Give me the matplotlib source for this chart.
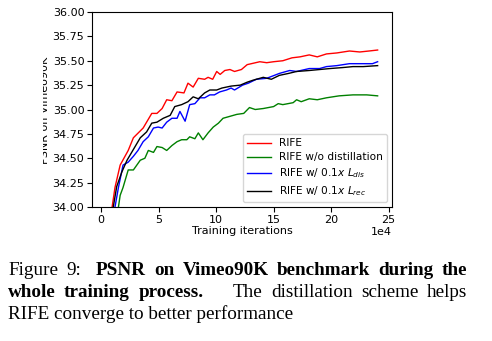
import numpy as np
import matplotlib
matplotlib.use('Agg')
import matplotlib.pyplot as plt
from matplotlib.transforms import Bbox, TransformedBbox

# training iterations (x1e4) and PSNR readings for each run
x_rife = [0.8, 0.95, 1.2, 1.65, 2.35, 2.8, 3.65, 4.4, 4.85, 5.3, 5.7, 6.15, 6.6, 7.2, 7.55, 8.0,
          8.45, 9.0, 9.3, 9.7, 10.05, 10.35, 10.75, 11.2, 11.6, 12.2, 12.7, 13.8, 14.4, 15.0,
          15.8, 16.6, 17.3, 18.1, 18.8, 19.6, 20.5, 21.6, 22.5, 23.3, 24.05]
y_rife = [33.8, 34.0, 34.2, 34.43, 34.58, 34.71, 34.81, 34.96, 34.96, 35.01, 35.1, 35.09, 35.18, 35.17,
          35.27, 35.23, 35.32, 35.31, 35.33, 35.31, 35.39, 35.36, 35.40, 35.41, 35.39, 35.41, 35.46,
          35.49, 35.48, 35.49, 35.5, 35.53, 35.54, 35.56, 35.54, 35.57, 35.58, 35.6, 35.59, 35.6, 35.61]

x_nodist = [1.4, 1.5, 1.65, 1.9, 2.35, 2.8, 3.1, 3.4, 3.8, 4.1, 4.55, 4.85, 5.3, 5.7, 6.15, 6.6, 7.0,
            7.45, 7.7, 8.15, 8.45, 8.85, 9.3, 9.75, 10.2, 10.6, 11.2, 11.8, 12.4, 12.9, 13.4, 14.1,
            15.0, 15.4, 15.8, 16.7, 17.0, 17.4, 18.1, 18.8, 19.6, 20.7, 21.9, 23.1, 24.05]
y_nodist = [33.85, 34.0, 34.12, 34.2, 34.38, 34.38, 34.43, 34.48, 34.5, 34.58, 34.56, 34.62, 34.61,
            34.58, 34.63, 34.67, 34.69, 34.69, 34.72, 34.7, 34.76, 34.69, 34.76, 34.82, 34.86, 34.91,
            34.93, 34.95, 34.96, 35.02, 35.0, 35.01, 35.03, 35.06, 35.05, 35.07, 35.1, 35.08, 35.11,
            35.1, 35.12, 35.14, 35.15, 35.15, 35.14]

x_dis = [1.05, 1.2, 1.5, 1.9, 2.35, 2.8, 3.2, 3.65, 4.1, 4.55, 4.95, 5.3, 5.7, 6.15, 6.6, 6.85, 7.3,
         7.7, 8.15, 8.6, 9.0, 9.45, 9.85, 10.3, 10.9, 11.3, 11.6, 12.3, 12.8, 13.5, 14.4, 15.5,
         16.4, 17.0, 18.1, 19.0, 19.6, 20.5, 21.6, 22.8, 23.6, 24.05]
y_dis = [33.85, 34.0, 34.2, 34.43, 34.46, 34.52, 34.58, 34.67, 34.72, 34.81, 34.82, 34.81, 34.87,
         34.91, 34.91, 34.98, 34.88, 35.05, 35.06, 35.12, 35.12, 35.15, 35.15, 35.18, 35.2, 35.22,
         35.2, 35.25, 35.27, 35.31, 35.32, 35.37, 35.4, 35.39, 35.42, 35.42, 35.44, 35.45, 35.47,
         35.47, 35.47, 35.49]

x_rec = [0.9, 1.05, 1.35, 1.8, 2.25, 2.65, 2.95, 3.4, 3.95, 4.4, 4.85, 5.4, 6.0, 6.4, 7.0, 7.55, 8.0,
         8.45, 9.0, 9.45, 10.05, 10.5, 10.9, 11.3, 12.1, 12.7, 13.2, 14.1, 14.8, 15.5, 16.3, 17.0,
         18.1, 19.0, 19.9, 21.0, 21.9, 22.8, 24.05]
y_rec = [33.8, 34.0, 34.21, 34.36, 34.48, 34.56, 34.62, 34.71, 34.77, 34.86, 34.87, 34.91, 34.94,
         35.03, 35.05, 35.08, 35.13, 35.11, 35.17, 35.2, 35.2, 35.22, 35.23, 35.24, 35.25, 35.28,
         35.3, 35.33, 35.31, 35.35, 35.37, 35.39, 35.4, 35.41, 35.42, 35.43, 35.44, 35.44, 35.45]

labels = ['RIFE', 'RIFE w/o distillation', r'RIFE w/ 0.1$x$ $L_{dis}$', r'RIFE w/ 0.1$x$ $L_{rec}$']
colors = ['red', 'green', 'blue', 'black']

W, H = 492, 341
fig = plt.figure(figsize=(W / 100, H / 100), dpi=100)
ax = fig.add_axes([92 / W, 1 - 207 / H, 300 / W, 195 / H])

for xs, ys, lab, c in zip([x_rife, x_nodist, x_dis, x_rec], [y_rife, y_nodist, y_dis, y_rec], labels, colors):
    ax.plot(xs, ys, color=c, lw=1.0, label=lab)

ax.set_xlim(-0.8, 25.3)
ax.set_ylim(34.0, 36.0)
ax.set_yticks(np.arange(34.0, 36.01, 0.25))
ax.set_yticklabels(['%.2f' % v for v in np.arange(34.0, 36.01, 0.25)])
ax.set_xticks([0, 5, 10, 15, 20, 25])
ax.tick_params(labelsize=8, length=3.5, pad=2)
ax.set_xlabel('Training iterations', fontsize=8, labelpad=1)
ax.text(1.0, -0.105, '1e4', transform=ax.transAxes, ha='right', va='top', fontsize=8)
ax.legend(loc='lower right', fontsize=7.6, handlelength=2.2, labelspacing=0.38,
          borderaxespad=0.45, borderpad=0.4)

# y label, cropped on the left like the original
yl = fig.text(45 / W, 1 - 110 / H, 'PSNR on Vimeo90K', rotation=90, fontsize=8,
              ha='center', va='center')
yl.set_clip_box(TransformedBbox(Bbox([[43 / W, 0], [1, 1]]), fig.transFigure))
yl.set_clip_on(True)

# caption, justified lines
serif = 'Liberation Serif'
fs = 13.8
renderer = fig.canvas.get_renderer()


def justify(words, y, x0=8, x1=467):
    # words: (text, weight, gap factor after the word)
    arts = [fig.text(0, 0, w, fontsize=fs, family=serif, fontweight=b, va='baseline')
            for w, b, g in words]
    widths = [a.get_window_extent(renderer).width for a in arts]
    factors = [g for w, b, g in words[:-1]]
    unit = (x1 - x0 - sum(widths)) / sum(factors)
    x = x0
    for i, (a, w) in enumerate(zip(arts, widths)):
        a.set_position((x / W, 1 - y / H))
        if i < len(factors):
            x += w + unit * factors[i]


n, b = 'normal', 'bold'
line1 = [('Figure', n, 1), ('9:', n, 1.8)] + [(w, b, 1) for w in 'PSNR on Vimeo90K benchmark during the'.split()]
line2 = [('whole', b, 1), ('training', b, 1), ('process.', b, 3.5)] + \
        [(w, n, 1) for w in 'The distillation scheme helps'.split()]
justify(line1, 275)
justify(line2, 297)
fig.text(8 / W, 1 - 319 / H, 'RIFE converge to better performance', fontsize=fs, family=serif,
         va='baseline')

fig.savefig('out.png', dpi=100)
